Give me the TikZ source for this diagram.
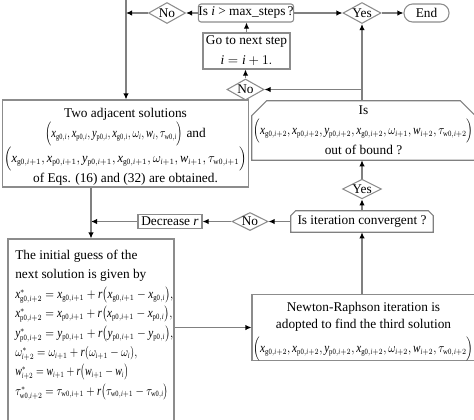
\documentclass[tikz,border=0pt]{standalone}
\usepackage{fontspec}
\usepackage{graphicx}
\setmainfont{Liberation Serif}
\DeclareMathSizes{10}{10}{6}{5}
\usetikzlibrary{shapes.geometric,arrows.meta}
\newcommand\Mx{\mathit{x}}
\newcommand\My{\mathit{y}}
\newcommand\Mw{\mathit{w}}
\newcommand\Mr{\mathit{r}}
\newcommand\Mi{\mathit{i}}
\newcommand\mxg[1]{\Mx_{\mathrm{g0,}#1}}
\newcommand\mxp[1]{\Mx_{\mathrm{p0,}#1}}
\newcommand\myp[1]{\My_{\mathrm{p0,}#1}}
\newcommand\mtw[1]{\tau_{\mathrm{w0,}#1}}
\newcommand\fitw[2]{\resizebox{#1}{\height}{#2}}
\begin{document}
\begin{tikzpicture}[x=0.75pt,y=-0.75pt,
  line/.style={draw=black!50,line width=0.8pt},
  arr/.style={line,-{Latex[length=4.5pt,width=4pt,color=black]}},
  box/.style={draw=black!45,line width=0.8pt,inner sep=0pt,align=center,
    font=\fontsize{10}{14}\selectfont},
  plain/.style={inner sep=0pt,align=center,font=\fontsize{10}{14}\selectfont},
  dia/.style={diamond,draw=black!45,line width=0.8pt,inner sep=0pt,shape aspect=1.8,
    font=\fontsize{10}{12}\selectfont}]
\useasboundingbox (0,0) rectangle (474,419);
\clip (0,0) rectangle (474,419);

% top row
\node[box,rounded corners=2pt,minimum width=69pt,minimum height=13.5pt] (ismax) at (246,13) {Is \textit{i} > max\_steps\,?};
\node[dia,minimum width=27.75pt,minimum height=15.75pt] (no1) at (167,13) {No};
\node[dia,minimum width=28.5pt,minimum height=15.75pt] (yes1) at (362,13) {Yes};
\node[box,rounded corners=6.5pt,minimum width=33.75pt,minimum height=13.5pt] (end) at (426.5,13) {End};
\node[box,minimum width=65.25pt,minimum height=27pt] (next) at (246.5,51) {Go to next step\\[1pt] $\Mi=\Mi+1.$};
\node[dia,minimum width=27.75pt,minimum height=15.75pt] (no2) at (245.5,89.5) {No};

% left column
\node[box,minimum width=184.5pt,minimum height=65.25pt,font=\fontsize{10}{15}\selectfont] (two) at (125.5,143.5)
 {\rule{0pt}{12pt}Two adjacent solutions\\
  \fitw{103.5pt}{$\Bigl(\mxg{\Mi}, \mxp{\Mi}, \myp{\Mi}, \mxg{\Mi}, \omega_{\Mi}, \Mw_{\Mi}, \mtw{\Mi}\Bigr)$} and\\
  \fitw{182pt}{$\Bigl(\mxg{\Mi+1}, \mxp{\Mi+1}, \myp{\Mi+1}, \mxg{\Mi+1}, \omega_{\Mi+1}, \Mw_{\Mi+1}, \mtw{\Mi+1}\Bigr)$}\\
  of Eqs. (16) and (32) are obtained.};
\node[box,minimum width=48pt,minimum height=10.5pt] (decr) at (170,221.5) {Decrease \textit{r}};
\node[box,minimum width=124.5pt,minimum height=143.25pt] (guess) at (91,334.5) {};
\node[plain,align=left,anchor=north west,font=\fontsize{10}{14.5}\selectfont] (guesstext) at (15,250)
 {The initial guess of the\\
  next solution is given by\\
  \fitw{118.5pt}{$\Mx^{*}_{\mathrm{g0,}\Mi+2} = \mxg{\Mi+1} + \Mr\bigl(\mxg{\Mi+1} - \mxg{\Mi}\bigr),$}\\
  \fitw{118pt}{$\Mx^{*}_{\mathrm{p0,}\Mi+2} = \mxp{\Mi+1} + \Mr\bigl(\mxp{\Mi+1} - \mxp{\Mi}\bigr),$}\\
  \fitw{118.5pt}{$\My^{*}_{\mathrm{p0,}\Mi+2} = \myp{\Mi+1} + \Mr\bigl(\myp{\Mi+1} - \myp{\Mi}\bigr),$}\\
  \fitw{91.5pt}{$\omega^{*}_{\Mi+2} = \omega_{\Mi+1} + \Mr(\omega_{\Mi+1} - \omega_{\Mi}),$}\\
  \fitw{85pt}{$\Mw^{*}_{\Mi+2} = \Mw_{\Mi+1} + \Mr\bigl(\Mw_{\Mi+1} - \Mw_{\Mi}\bigr)$}\\
  \fitw{115pt}{$\tau^{*}_{\mathrm{w0,}\Mi+2} = \mtw{\Mi+1} + \Mr\bigl(\mtw{\Mi+1} - \mtw{\Mi}\bigr)$}};

% right column
\node[plain,minimum width=167.25pt,minimum height=44.25pt,font=\fontsize{10}{15}\selectfont] (bound) at (363.5,130.5)
 {Is\\
  \fitw{165pt}{$\Bigl(\mxg{\Mi+2}, \mxp{\Mi+2}, \myp{\Mi+2}, \mxg{\Mi+2}, \omega_{\Mi+1}, \Mw_{\Mi+2}, \mtw{\Mi+2}\Bigr)$}\\
  out of bound ?};
\draw[line] ([yshift=-11.25pt]bound.north west) -- ([xshift=11.25pt]bound.north west)
  -- ([xshift=-11.25pt]bound.north east) -- ([yshift=-11.25pt]bound.north east)
  -- (bound.south east) -- (bound.south west) -- cycle;
\node[dia,minimum width=29.25pt,minimum height=13.5pt] (yes2) at (362,189) {Yes};
\node[plain,minimum width=106.5pt,minimum height=15.75pt] (conv) at (362,221.5) {Is iteration convergent ?};
\draw[line] ([yshift=-3.75pt]conv.north west) -- ([xshift=3.75pt]conv.north west)
  -- ([xshift=-3.75pt]conv.north east) -- ([yshift=-3.75pt]conv.north east)
  -- (conv.south east) -- (conv.south west) -- cycle;
\node[dia,minimum width=27pt,minimum height=13.5pt] (no3) at (250,221.5) {No};
\node[box,minimum width=167.25pt,minimum height=47.25pt,font=\fontsize{10}{13}\selectfont] (newton) at (363.5,327.5)
 {\rule{0pt}{13pt}Newton-Raphson iteration is\\
  adopted to find the third solution\\[3pt]
  \fitw{165pt}{$\Bigl(\mxg{\Mi+2}, \mxp{\Mi+2}, \myp{\Mi+2}, \mxg{\Mi+2}, \omega_{\Mi+2}, \Mw_{\Mi+2}, \mtw{\Mi+2}\Bigr)$}};

% junctions
\coordinate (top) at (126,0);
\coordinate (j1) at (126,13);
\coordinate (j2) at (91,221.5);
\coordinate (j3) at (362,89.5);

% connectors
\draw[line] (top) -- (j1);
\draw[arr] (j1) -- (j1 |- two.north);
\draw[arr] (ismax.west) -- (no1.east);
\draw[arr] (no1.west) -- (j1);
\draw[arr] (ismax.east) -- (yes1.west);
\draw[arr] (yes1.east) -- (end.west);
\draw[arr] (next.north) -- (next.north |- ismax.south);
\draw[arr] (no2.north) -- (no2.north |- next.south);
\draw[arr] (yes1.south |- bound.north) -- (yes1.south);
\draw[arr] (j3) -- (no2.east);
\draw[arr] (yes2.north) -- (yes2.north |- bound.south);
\draw[arr] (conv.north) -- (yes2.south);
\draw[arr] (conv.south |- newton.north) -- (conv.south);
\draw[arr] (conv.west) -- (no3.east);
\draw[arr] (no3.west) -- (decr.east);
\draw[arr] (decr.west) -- (j2);
\draw[line] (j2 |- two.south) -- (j2);
\draw[arr] (j2) -- (j2 |- guess.north);
\draw[arr] (guess.east |- newton.west) -- (newton.west);
\end{tikzpicture}
\end{document}
